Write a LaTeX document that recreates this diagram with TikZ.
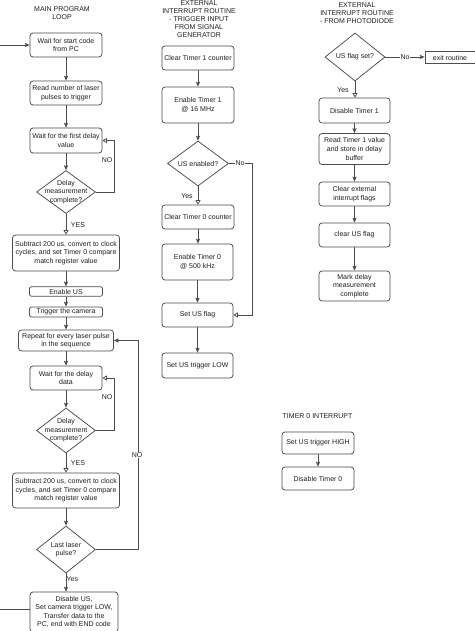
\documentclass[tikz,border=0pt]{standalone}
\usepackage{fontspec}
\setmainfont{Liberation Sans}
\usetikzlibrary{shapes.geometric,arrows.meta}
\definecolor{ln}{gray}{0.3}
\definecolor{tx}{gray}{0.12}
\tikzset{
  base/.style={font=\fontsize{7pt}{8.6pt}\selectfont, text=tx, align=center, inner sep=0pt},
  box/.style={base, draw=ln, line width=0.75pt, rounded corners=3pt},
  sqbox/.style={base, draw=ln, line width=0.75pt},
  dia/.style={diamond, draw=ln, line width=0.75pt, inner sep=0pt},
  dtext/.style={base},
  lbl/.style={base},
  arr/.style={draw=ln, line width=0.75pt, -{Stealth[length=5pt,width=4.2pt,inset=1.2pt]}},
  oarr/.style={draw=ln, line width=0.75pt, -{Triangle[open,length=4.5pt,width=5pt,fill=white]}},
  ttl/.style={base, font=\fontsize{7pt}{8pt}\selectfont}
}
\begin{document}
\begin{tikzpicture}[x=1pt,y=-1pt]
\useasboundingbox (0,0) rectangle (474,631);
\fill[white] (0,0) rectangle (474,631);

% ---------------- MAIN PROGRAM LOOP ----------------
\node[ttl] (t0) at (62,13) {MAIN PROGRAM\\LOOP};
\node[box, minimum width=72pt, minimum height=24pt] (b1) at (66,45) {Wait for start code\\from PC};
\node[box, minimum width=72pt, minimum height=24pt] (b2) at (66,93) {Read number of laser\\pulses to trigger};
\node[box, minimum width=72pt, minimum height=25pt] (b3) at (66,140.5) {Wait for the first delay\\value};
\node[dia, minimum width=59pt, minimum height=43pt] (d1) at (66,192) {};
\node[dtext] (d1t) at (d1.center) {Delay\\measurement\\complete?};
\node[box, minimum width=107pt, minimum height=36pt] (b4) at (66,253) {Subtract 200 us, convert to clock\\cycles, and set Timer 0 compare\\match register value};
\node[box, rounded corners=2pt, minimum width=73pt, minimum height=9.5pt] (b5) at (66,291.5) {Enable US};
\node[box, rounded corners=2pt, minimum width=73pt, minimum height=10pt] (b6) at (66,312) {Trigger the camera};
\node[box, minimum width=95pt, minimum height=21pt] (b7) at (66,340.5) {Repeat for every laser pulse\\in the sequence};
\node[box, minimum width=72pt, minimum height=24pt] (b8) at (66,378) {Wait for the delay\\data};
\node[dia, minimum width=59pt, minimum height=45pt] (d2) at (66,430.5) {};
\node[dtext] (d2t) at (d2.center) {Delay\\measurement\\complete?};
\node[box, minimum width=107pt, minimum height=35pt] (b9) at (66,490.5) {Subtract 200 us, convert to clock\\cycles, and set Timer 0 compare\\match register value};
\node[dia, minimum width=59pt, minimum height=47pt] (d3) at (66,549.5) {};
\node[dtext] (d3t) at (d3.center) {Last laser\\pulse?};
\node[box, minimum width=88pt, minimum height=40pt] (b10) at (74,612) {Disable US,\\Set camera trigger LOW,\\Transfer data to the\\PC, end with END code};

\coordinate (inL) at (0,45);
\coordinate (outL) at (0,609);
\draw[arr] (inL) -- (b1.west);
\draw[arr] (b1) -- (b2);
\draw[arr] (b2) -- (b3);
\draw[arr] (b3) -- (d1);
\draw[oarr] (d1.east) -- ++(18,0) |- (b3.east);
\node[lbl] (no1) at (107,160) {NO};
\draw[oarr] (d1.south) -- (b4.north);
\node[lbl] (yes1) at (78,225) {YES};
\draw[arr] (b4) -- (b5);
\draw[arr] (b5) -- (b6);
\draw[arr] (b6) -- (b7);
\draw[arr] (b7) -- (b8);
\draw[arr] (b8) -- (d2);
\draw[oarr] (d2.east) -- ++(18,0) |- (b8.east);
\node[lbl] (no2) at (107,397) {NO};
\draw[oarr] (d2.south) -- (b9.north);
\node[lbl] (yes2) at (78,463) {YES};
\draw[arr] (b9) -- (d3);
\draw[arr] (d3.east) -- ++(42,0) |- (b7.east);
\node[lbl, fill=white, inner sep=1pt] (no3) at (137,455) {NO};
\draw[arr] (d3.south) -- (d3.south |- b10.north);
\node[lbl, anchor=west] (yes3) at (66.5,579) {Yes};
\draw[draw=ln, line width=0.75pt] (outL -| b10.west) -- (outL);

% ---------------- EXTERNAL INTERRUPT - TRIGGER ----------------
\node[ttl] (t1) at (199,19) {EXTERNAL\\INTERRUPT ROUTINE\\- TRIGGER INPUT\\FROM SIGNAL\\GENERATOR};
\node[box, minimum width=72pt, minimum height=24pt] (m1) at (198,58) {Clear Timer 1 counter};
\node[box, minimum width=72pt, minimum height=36pt] (m2) at (198,105) {Enable Timer 1\\@ 16 MHz};
\node[dia, minimum width=61pt, minimum height=45pt] (md) at (198,163.5) {};
\node[dtext] (mdt) at (md.center) {US enabled?};
\node[box, minimum width=72pt, minimum height=24pt] (m3) at (198,217) {Clear Timer 0 counter};
\node[box, minimum width=71pt, minimum height=36pt] (m4) at (197.5,262) {Enable Timer 0\\@ 500 kHz};
\node[box, minimum width=71pt, minimum height=24pt] (m5) at (197.5,315) {Set US flag};
\node[box, minimum width=71pt, minimum height=25pt] (m6) at (197.5,365.5) {Set US trigger LOW};

\draw[arr] (m1) -- (m2);
\draw[arr] (m2) -- (md);
\draw[oarr] (md.east) -- (252,163.5) |- (m5.east);
\node[lbl, fill=white, inner sep=1pt] (mno) at (240,163.5) {No};
\draw[oarr] (md.south) -- (m3.north);
\node[lbl] (myes) at (187,196) {Yes};
\draw[arr] (m3) -- (m3 |- m4.north);
\draw[arr] (m4) -- (m5);
\draw[arr] (m5) -- (m6);

% ---------------- EXTERNAL INTERRUPT - PHOTODIODE ----------------
\node[ttl] (t2) at (357,13) {EXTERNAL\\INTERRUPT ROUTINE\\- FROM PHOTODIODE};
\node[dia, minimum width=60pt, minimum height=48pt] (rd) at (355,57) {};
\node[dtext] (rdt) at (rd.center) {US flag set?};
\node[sqbox, minimum width=50pt, minimum height=11.5pt] (re) at (450,57.5) {exit routine};
\node[box, minimum width=71pt, minimum height=25pt] (r1) at (354.5,110.5) {Disable Timer 1};
\node[box, minimum width=71pt, minimum height=31pt] (r2) at (354.5,149) {Read Timer 1 value\\and store in delay\\buffer};
\node[box, minimum width=71pt, minimum height=24pt] (r3) at (354.5,194) {Clear external\\interrupt flags};
\node[box, minimum width=71pt, minimum height=24pt] (r4) at (354.5,235) {clear US flag};
\node[box, minimum width=71pt, minimum height=30pt] (r5) at (354.5,286) {Mark delay\\measurement\\complete};

\draw[arr] (rd.east) -- (re.west |- rd.east);
\node[lbl, fill=white, inner sep=1pt] (rno) at (405,57) {No};
\draw[oarr] (rd.south) -- (rd.south |- r1.north);
\node[lbl] (ryes) at (343,90) {Yes};
\draw[arr] (r1) -- (r2);
\draw[arr] (r2) -- (r3);
\draw[arr] (r3) -- (r4);
\draw[arr] (r4) -- (r5);

% ---------------- TIMER 0 INTERRUPT ----------------
\node[ttl] (t3) at (317.5,416) {TIMER 0 INTERRUPT};
\node[box, minimum width=72pt, minimum height=22pt] (q1) at (318,443) {Set US trigger HIGH};
\node[box, minimum width=72pt, minimum height=23pt] (q2) at (318,478.5) {Disable Timer 0};
\draw[arr] (q1) -- (q2);
\end{tikzpicture}
\end{document}
